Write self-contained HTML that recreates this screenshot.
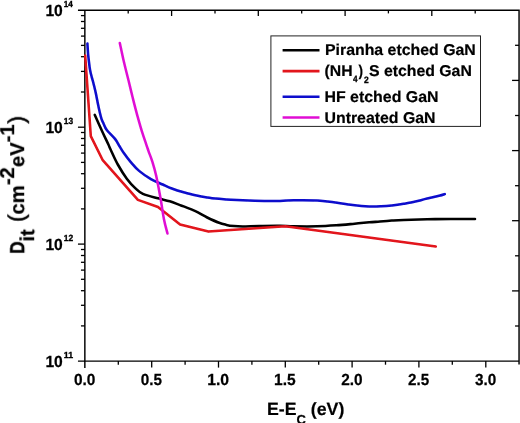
<!DOCTYPE html><html><head><meta charset="utf-8"><title>Dit vs E-Ec</title><style>html,body{margin:0;padding:0;background:#fff}svg{display:block}text{font-family:"Liberation Sans",sans-serif;font-weight:bold;text-rendering:geometricPrecision;fill:#000;stroke:#000;stroke-width:0.2}</style></head><body>
<svg width="520" height="423" viewBox="0 0 520 423">
<defs><filter id="soft" x="0" y="0" width="520" height="423" filterUnits="userSpaceOnUse"><feGaussianBlur stdDeviation="0.35"/></filter></defs>
<rect width="520" height="423" fill="#fff"/>
<g filter="url(#soft)">
<g stroke="#000" stroke-width="1.45" fill="none">
<path d="M77.94999999999999,10.2 H519.05 V364.5 M77.94999999999999,361.1 H519.05 M84.85,10.2 V367.90000000000003"/>
</g><g stroke="#000" stroke-width="1.3" fill="none">
<line x1="80.94999999999999" y1="325.9" x2="84.85" y2="325.9"/>
<line x1="80.94999999999999" y1="305.3" x2="84.85" y2="305.3"/>
<line x1="80.94999999999999" y1="290.7" x2="84.85" y2="290.7"/>
<line x1="80.94999999999999" y1="279.3" x2="84.85" y2="279.3"/>
<line x1="80.94999999999999" y1="270.1" x2="84.85" y2="270.1"/>
<line x1="80.94999999999999" y1="262.3" x2="84.85" y2="262.3"/>
<line x1="80.94999999999999" y1="255.5" x2="84.85" y2="255.5"/>
<line x1="80.94999999999999" y1="249.5" x2="84.85" y2="249.5"/>
<line x1="77.94999999999999" y1="244.1" x2="84.85" y2="244.1"/>
<line x1="80.94999999999999" y1="208.9" x2="84.85" y2="208.9"/>
<line x1="80.94999999999999" y1="188.3" x2="84.85" y2="188.3"/>
<line x1="80.94999999999999" y1="173.7" x2="84.85" y2="173.7"/>
<line x1="80.94999999999999" y1="162.4" x2="84.85" y2="162.4"/>
<line x1="80.94999999999999" y1="153.1" x2="84.85" y2="153.1"/>
<line x1="80.94999999999999" y1="145.3" x2="84.85" y2="145.3"/>
<line x1="80.94999999999999" y1="138.5" x2="84.85" y2="138.5"/>
<line x1="80.94999999999999" y1="132.5" x2="84.85" y2="132.5"/>
<line x1="77.94999999999999" y1="127.2" x2="84.85" y2="127.2"/>
<line x1="80.94999999999999" y1="92.0" x2="84.85" y2="92.0"/>
<line x1="80.94999999999999" y1="71.4" x2="84.85" y2="71.4"/>
<line x1="80.94999999999999" y1="56.7" x2="84.85" y2="56.7"/>
<line x1="80.94999999999999" y1="45.4" x2="84.85" y2="45.4"/>
<line x1="80.94999999999999" y1="36.1" x2="84.85" y2="36.1"/>
<line x1="80.94999999999999" y1="28.3" x2="84.85" y2="28.3"/>
<line x1="80.94999999999999" y1="21.5" x2="84.85" y2="21.5"/>
<line x1="80.94999999999999" y1="15.6" x2="84.85" y2="15.6"/>
<line x1="118.3" y1="361.1" x2="118.3" y2="364.70000000000005"/>
<line x1="151.7" y1="361.1" x2="151.7" y2="367.6"/>
<line x1="185.1" y1="361.1" x2="185.1" y2="364.70000000000005"/>
<line x1="218.5" y1="361.1" x2="218.5" y2="367.6"/>
<line x1="251.9" y1="361.1" x2="251.9" y2="364.70000000000005"/>
<line x1="285.3" y1="361.1" x2="285.3" y2="367.6"/>
<line x1="318.7" y1="361.1" x2="318.7" y2="364.70000000000005"/>
<line x1="352.1" y1="361.1" x2="352.1" y2="367.6"/>
<line x1="385.5" y1="361.1" x2="385.5" y2="364.70000000000005"/>
<line x1="418.9" y1="361.1" x2="418.9" y2="367.6"/>
<line x1="452.3" y1="361.1" x2="452.3" y2="364.70000000000005"/>
<line x1="485.8" y1="361.1" x2="485.8" y2="367.6"/>
<line x1="128.2" y1="10.2" x2="128.2" y2="13.399999999999999"/>
<line x1="171.6" y1="10.2" x2="171.6" y2="16.0"/>
<line x1="215.0" y1="10.2" x2="215.0" y2="13.399999999999999"/>
<line x1="258.3" y1="10.2" x2="258.3" y2="16.0"/>
<line x1="301.7" y1="10.2" x2="301.7" y2="13.399999999999999"/>
<line x1="345.1" y1="10.2" x2="345.1" y2="16.0"/>
<line x1="388.4" y1="10.2" x2="388.4" y2="13.399999999999999"/>
<line x1="431.8" y1="10.2" x2="431.8" y2="16.0"/>
<line x1="475.2" y1="10.2" x2="475.2" y2="13.399999999999999"/>
<line x1="519.05" y1="45.3" x2="515.05" y2="45.3"/>
<line x1="519.05" y1="80.4" x2="512.05" y2="80.4"/>
<line x1="519.05" y1="115.5" x2="515.05" y2="115.5"/>
<line x1="519.05" y1="150.6" x2="512.05" y2="150.6"/>
<line x1="519.05" y1="185.7" x2="515.05" y2="185.7"/>
<line x1="519.05" y1="220.7" x2="512.05" y2="220.7"/>
<line x1="519.05" y1="255.8" x2="515.05" y2="255.8"/>
<line x1="519.05" y1="290.9" x2="512.05" y2="290.9"/>
<line x1="519.05" y1="326.0" x2="515.05" y2="326.0"/>
</g>
<g transform="translate(0,0.3)">
<path d="M94.7,114.5 C96.0,117.5 100.4,127.2 102.7,132.2 C105.0,137.2 107.1,141.4 108.4,144.3 C109.7,147.2 109.1,146.2 110.7,149.5 C112.3,152.8 115.1,159.4 117.8,164.2 C120.5,169.0 123.9,174.5 126.8,178.4 C129.7,182.3 132.5,185.3 135.2,187.8 C137.9,190.3 139.1,191.9 142.9,193.6 C146.7,195.3 153.5,196.8 158.0,198.0 C162.5,199.2 166.1,199.9 169.8,201.0 C173.5,202.1 177.7,204.0 180.0,204.8 C182.3,205.7 181.0,205.1 183.6,206.1 C186.2,207.1 191.5,209.0 195.4,210.8 C199.3,212.7 203.2,215.2 207.2,217.2 C211.1,219.1 215.9,221.3 219.1,222.5 C222.3,223.7 224.0,224.0 226.5,224.6 C229.0,225.2 231.3,225.5 234.0,225.8 C236.7,226.1 238.5,226.2 242.7,226.2 C246.9,226.2 253.0,225.8 259.2,225.7 C265.4,225.6 274.3,225.4 280.0,225.5 C285.7,225.6 287.4,225.9 293.6,226.0 C299.8,226.1 310.1,226.2 317.2,226.0 C324.3,225.8 330.2,225.4 336.1,225.0 C342.0,224.6 347.2,224.1 352.7,223.6 C358.2,223.1 364.6,222.4 369.2,222.0 C373.8,221.6 376.2,221.6 380.0,221.3 C383.8,221.0 387.9,220.6 391.8,220.3 C395.7,220.0 397.7,219.8 403.6,219.6 C409.5,219.4 419.3,219.1 427.2,218.9 C435.1,218.8 442.9,218.7 450.9,218.7 C458.9,218.7 471.0,218.7 475.0,218.7" fill="none" stroke="#000" stroke-width="2.55" stroke-linejoin="round" stroke-linecap="round"/>
<polyline points="85.2,55.3 90.8,135.8 102.5,159.5 137.9,199.6 158.0,206.7 180.1,224.3 208.4,231.3 285.4,226.0 435.8,246.2" fill="none" stroke="#e2121a" stroke-width="2.55" stroke-linejoin="round" stroke-linecap="round"/>
<path d="M87.4,43.3 C87.5,44.9 87.8,49.8 88.0,52.7 C88.2,55.7 88.6,58.2 88.9,61.0 C89.2,63.8 89.6,66.9 90.0,69.3 C90.4,71.7 90.9,73.6 91.4,75.5 C91.9,77.4 92.1,77.8 92.8,80.5 C93.5,83.2 94.5,86.9 95.5,91.5 C96.5,96.1 97.9,103.7 98.9,108.2 C99.9,112.7 100.7,116.1 101.5,118.6 C102.3,121.1 102.7,121.6 103.6,123.4 C104.5,125.2 104.9,127.2 106.8,129.7 C108.7,132.2 112.8,135.8 115.0,138.6 C117.2,141.3 118.2,143.8 119.7,146.2 C121.2,148.6 122.2,150.4 124.0,153.0 C125.8,155.6 128.3,158.9 130.8,161.8 C133.3,164.7 135.8,167.8 139.1,170.6 C142.4,173.4 147.0,176.5 150.9,178.8 C154.8,181.1 159.2,182.6 162.7,184.2 C166.2,185.8 168.3,186.9 171.8,188.2 C175.3,189.5 179.7,190.9 183.6,192.0 C187.5,193.1 191.5,194.2 195.4,195.0 C199.3,195.8 203.2,196.5 207.2,197.1 C211.1,197.7 215.1,198.1 219.1,198.5 C223.1,198.9 225.0,199.2 230.9,199.5 C236.8,199.8 246.3,200.2 254.5,200.4 C262.7,200.6 273.5,200.7 280.0,200.6 C286.5,200.5 287.4,200.1 293.6,200.0 C299.8,199.9 310.5,199.9 317.2,200.2 C323.9,200.5 327.9,201.2 333.8,201.9 C339.7,202.7 346.8,204.0 352.7,204.7 C358.6,205.4 364.5,205.9 369.2,206.1 C373.9,206.3 377.2,206.1 381.0,205.9 C384.8,205.8 388.0,205.6 391.8,205.2 C395.6,204.8 399.7,204.2 403.6,203.5 C407.5,202.8 411.5,202.1 415.4,201.2 C419.3,200.3 423.2,199.2 427.2,198.3 C431.1,197.4 436.2,196.2 439.1,195.5 C442.0,194.8 443.9,194.1 444.8,193.8" fill="none" stroke="#0a0acc" stroke-width="2.55" stroke-linejoin="round" stroke-linecap="round"/>
<path d="M119.8,42.7 C120.5,45.7 122.2,54.4 123.7,60.7 C125.2,67.0 127.1,74.5 128.6,80.5 C130.1,86.5 131.2,91.4 132.6,97.0 C134.0,102.6 135.4,108.3 137.0,114.0 C138.6,119.7 140.3,126.0 141.9,131.0 C143.5,136.1 145.2,141.0 146.3,144.3 C147.4,147.6 147.6,148.1 148.6,151.0 C149.6,153.9 151.2,157.6 152.5,161.8 C153.8,166.0 155.0,170.1 156.3,176.0 C157.6,181.9 159.1,190.2 160.4,197.3 C161.7,204.4 162.7,212.6 163.9,218.6 C165.1,224.6 166.9,230.8 167.5,233.2" fill="none" stroke="#e010d4" stroke-width="2.55" stroke-linejoin="round" stroke-linecap="round"/>
</g>
<text transform="translate(45.38,366.50) scale(0.9764,1)" font-size="16.0" style="stroke-width:0.25">10</text>
<text transform="translate(63.73,357.50) scale(0.9897,1)" font-size="8.9" style="stroke-width:0.35">11</text>
<text transform="translate(45.38,249.53) scale(0.9764,1)" font-size="16.0" style="stroke-width:0.25">10</text>
<text transform="translate(63.75,240.53) scale(0.9503,1)" font-size="8.9" style="stroke-width:0.35">12</text>
<text transform="translate(45.38,132.57) scale(0.9764,1)" font-size="16.0" style="stroke-width:0.25">10</text>
<text transform="translate(63.75,123.57) scale(0.9456,1)" font-size="8.9" style="stroke-width:0.35">13</text>
<text transform="translate(45.38,15.60) scale(0.9764,1)" font-size="16.0" style="stroke-width:0.25">10</text>
<text transform="translate(63.77,6.60) scale(0.9183,1)" font-size="8.9" style="stroke-width:0.35">14</text>
<text transform="translate(73.93,384.70) scale(0.9637,1)" font-size="16.0" style="stroke-width:0.25">0.0</text>
<text transform="translate(140.76,384.70) scale(0.9528,1)" font-size="16.0" style="stroke-width:0.25">0.5</text>
<text transform="translate(207.16,384.70) scale(0.9825,1)" font-size="16.0" style="stroke-width:0.25">1.0</text>
<text transform="translate(273.99,384.70) scale(0.9712,1)" font-size="16.0" style="stroke-width:0.25">1.5</text>
<text transform="translate(341.28,384.70) scale(0.9601,1)" font-size="16.0" style="stroke-width:0.25">2.0</text>
<text transform="translate(408.10,384.70) scale(0.9492,1)" font-size="16.0" style="stroke-width:0.25">2.5</text>
<text transform="translate(475.07,384.70) scale(0.9528,1)" font-size="16.0" style="stroke-width:0.25">3.0</text>
<text x="267.05" y="415.0" font-size="17.7">E-E<tspan dy="8.6" font-size="13">C</tspan><tspan dy="-8.6"> (eV)</tspan></text>
<g transform="translate(24.2,253.8) rotate(-90)" font-size="20.25">
<text transform="scale(0.85,1)" x="0" y="0" style="stroke-width:0.5">D</text>
<text x="12.22" y="10.3">it</text>
<text x="31.71" y="0" font-size="23" style="font-weight:normal;stroke-width:0.55">(</text>
<text x="39.36" y="0">cm</text>
<text x="68.63" y="-10">-2</text>
<text x="86.64" y="0">eV</text>
<text x="111.41" y="-10">-1</text>
<text x="130.20" y="0" font-size="23" style="font-weight:normal;stroke-width:0.55">)</text>
</g>
<rect x="270.9" y="35.9" width="209.6" height="90.5" fill="#fff" stroke="#222" stroke-width="1"/>
<line x1="282.6" y1="50.2" x2="319.5" y2="50.2" stroke="#000" stroke-width="2.55"/>
<line x1="282.6" y1="71.1" x2="319.5" y2="71.1" stroke="#e2121a" stroke-width="2.55"/>
<line x1="282.6" y1="96.7" x2="319.5" y2="96.7" stroke="#0a0acc" stroke-width="2.55"/>
<line x1="282.6" y1="117.4" x2="319.5" y2="117.4" stroke="#e010d4" stroke-width="2.55"/>
<text transform="translate(324.97,55.10) scale(1.0180,1)" font-size="15.6">Piranha etched GaN</text>
<text transform="translate(324.61,76.20) scale(1.0117,1)" font-size="15.6">(NH</text>
<text transform="translate(353.08,82.20) scale(0.8939,1)" font-size="9.2" style="stroke-width:0.3">4</text>
<text transform="translate(358.53,76.20) scale(0.8700,1)" font-size="15.6">)</text>
<text transform="translate(363.90,82.60) scale(0.9284,1)" font-size="9.2" style="stroke-width:0.3">2</text>
<text transform="translate(368.93,76.20) scale(1.0148,1)" font-size="15.6">S etched GaN</text>
<text transform="translate(324.47,102.20) scale(1.0205,1)" font-size="15.6">HF etched GaN</text>
<text transform="translate(324.55,122.70) scale(1.0163,1)" font-size="15.6">Untreated GaN</text>
</g></svg></body></html>
